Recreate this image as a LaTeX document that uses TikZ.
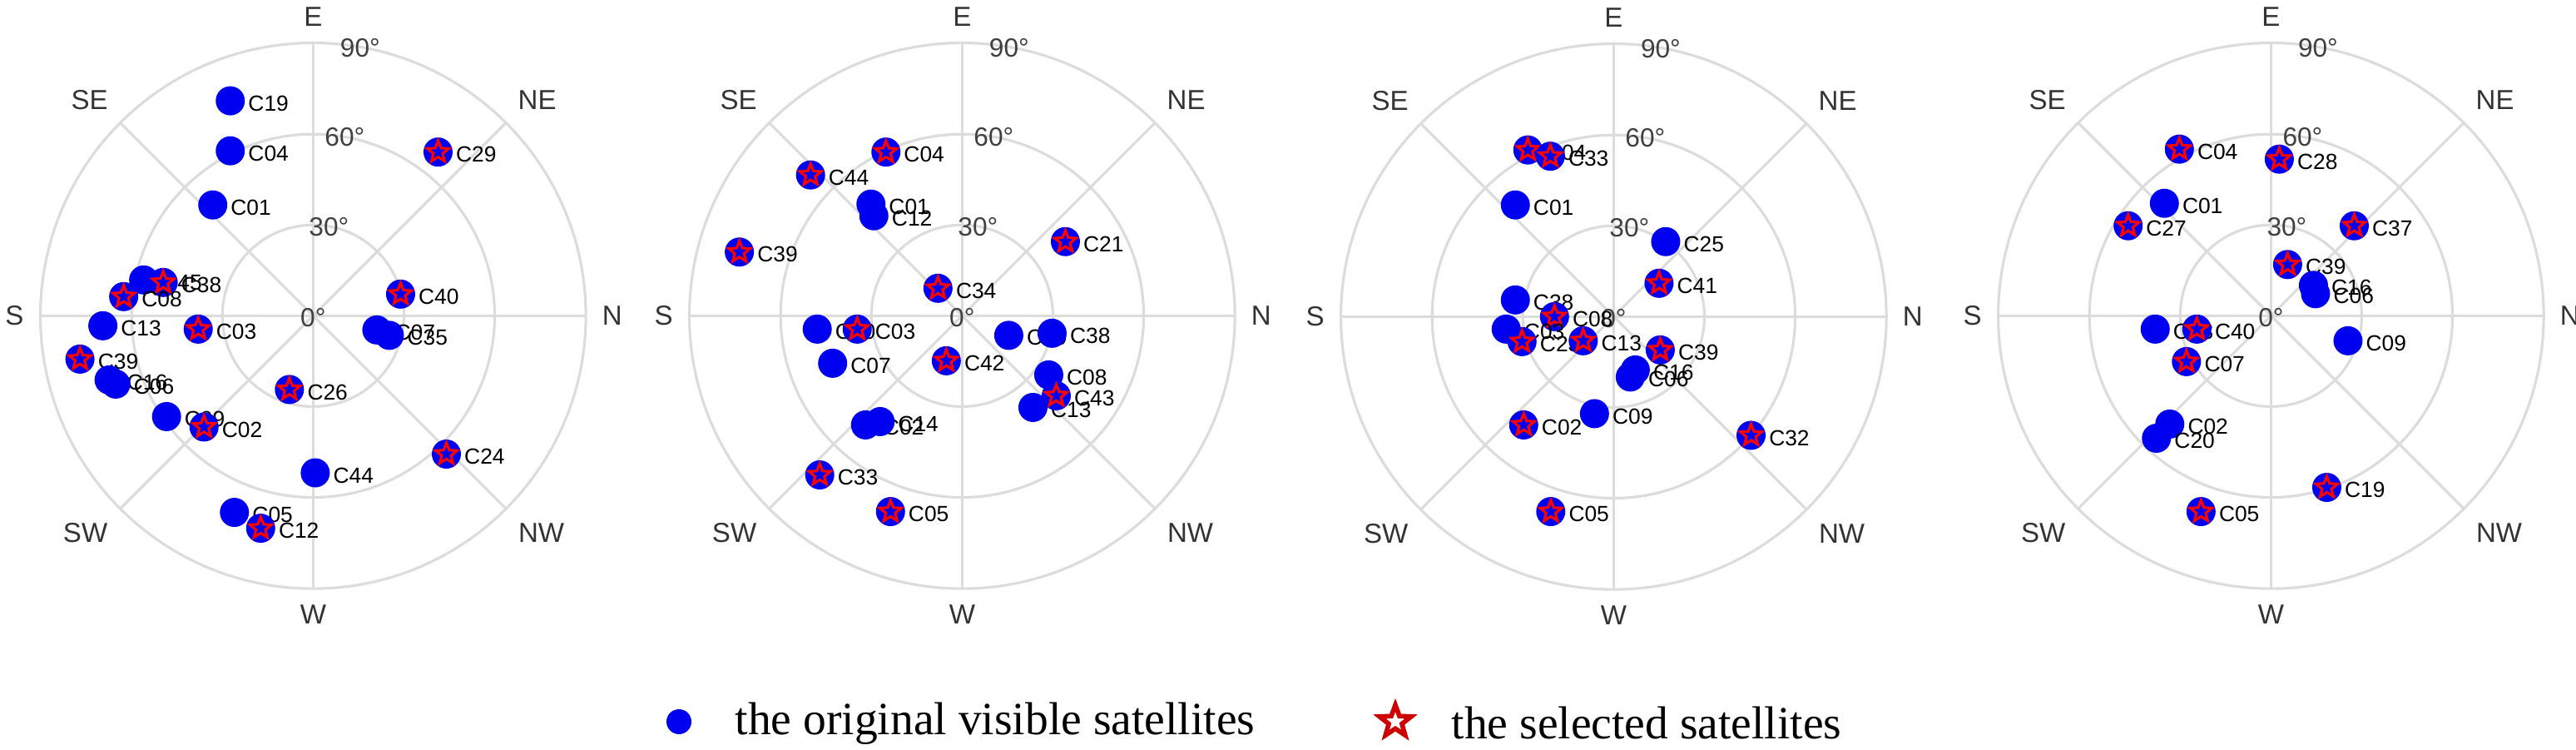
\documentclass[tikz,border=0pt]{standalone}
\usepackage{fontspec}
\setmainfont{Liberation Serif}
\newfontfamily\arialf{Liberation Sans}
\usetikzlibrary{shapes.geometric}
\definecolor{gridc}{RGB}{220,220,220}
\definecolor{satblue}{RGB}{0,0,240}
\tikzset{
 gridl/.style={draw=gridc,line width=0.9pt},
 dotb/.style={circle,fill=satblue,draw=none,minimum size=0.35cm,inner sep=0pt},
 stm/.style={star,star points=5,star point ratio=2.3,draw=red,line width=0.9pt,minimum size=0.27cm,inner sep=0pt},
 lab/.style={font=\arialf\fontsize{7.5pt}{8pt}\selectfont,text=black,inner sep=0pt,anchor=west},
 dirl/.style={font=\arialf\fontsize{9.4pt}{10pt}\selectfont,text=black!80,inner sep=0pt},
 degl/.style={font=\arialf\fontsize{9pt}{10pt}\selectfont,text=black!75,inner sep=0pt},
 legt/.style={font=\fontsize{15.8pt}{17pt}\selectfont,inner sep=0pt,anchor=west}
}
\newcommand\satB[4]{\node[dotb] (#1) at (#2,#3) {};\node[lab] (#1l) at (#2+42,#3+6) {#4};}
\newcommand\satS[4]{\node[dotb] (#1) at (#2,#3) {};\node[stm] (#1s) at (#1) {};\node[lab] (#1l) at (#2+42,#3+6) {#4};}
\newcommand\polgrid[1]{%
 \foreach \r in {218,436,655} \draw[gridl] (\cx,\cy) circle[radius=\r*0.005cm];
 \foreach \a in {0,45,...,315} \draw[gridl] (\cx,\cy) -- ++(\a:3.275cm);
 \node[dirl] (#1E) at (\cx,\cy-718) {E};
 \node[dirl] (#1W) at (\cx,\cy+717) {W};
 \node[dirl] (#1S) at (\cx-717,\cy) {S};
 \node[dirl] (#1N) at (\cx+718,\cy) {N};
 \node[dirl] (#1SE) at (\cx-537,\cy-518) {SE};
 \node[dirl] (#1NE) at (\cx+538,\cy-518) {NE};
 \node[dirl] (#1SW) at (\cx-547,\cy+522) {SW};
 \node[dirl] (#1NW) at (\cx+548,\cy+522) {NW};
 \node[degl] (#1d90) at (\cx+113,\cy-643) {90°};
 \node[degl] (#1d60) at (\cx+76,\cy-430) {60°};
 \node[degl] (#1d30) at (\cx+38,\cy-213) {30°};
 \node[degl] (#1d0) at (\cx,\cy+4) {0°};
}
\begin{document}
\begin{tikzpicture}
\useasboundingbox (0,0) rectangle (30.96,-9.01);
% plot 1
\begin{scope}[shift={(0cm,0cm)},x=0.005cm,y=-0.005cm]
\def\cx{752}\def\cy{758}
\polgrid{a}
\satB{a19}{553}{242}{C19}
\satB{a04}{553}{362}{C04}
\satB{a01}{511}{492}{C01}
\satS{a29}{1052}{365}{C29}
\satS{a40}{962}{706}{C40}
\satB{a07}{905}{792}{C07}
\satB{a35}{935}{805}{C35}
\satB{a45}{345}{672}{C45}
\satS{a38}{392}{678}{C38}
\satS{a08}{297}{712}{C08}
\satB{a13}{247}{782}{C13}
\satS{a03}{476}{790}{C03}
\satS{a39}{192}{862}{C39}
\satB{a16}{262}{912}{C16}
\satB{a06}{278}{922}{C06}
\satB{a09}{400}{1000}{C09}
\satS{a02}{490}{1025}{C02}
\satS{a26}{695}{935}{C26}
\satS{a24}{1072}{1090}{C24}
\satB{a44}{757}{1135}{C44}
\satB{a05}{563}{1230}{C05}
\satS{a12}{626}{1268}{C12}
\end{scope}
% plot 2
\begin{scope}[shift={(7.8cm,0cm)},x=0.005cm,y=-0.005cm]
\def\cx{752}\def\cy{758}
\polgrid{b}
\satS{b04}{569}{365}{C04}
\satS{b44}{388}{420}{C44}
\satB{b01}{533}{490}{C01}
\satB{b12}{540}{518}{C12}
\satS{b39}{217}{605}{C39}
\satS{b21}{1000}{580}{C21}
\satS{b34}{694}{692}{C34}
\satB{b40}{404}{790}{C40}
\satS{b03}{500}{790}{C03}
\satB{b07}{441}{872}{C07}
\satS{b42}{714}{866}{C42}
\satB{b09}{864}{805}{C09}
\satB{b38}{968}{800}{C38}
\satB{b08}{960}{900}{C08}
\satB{b13}{922}{978}{C13}
\satS{b43}{978}{950}{C43}
\satB{b02}{520}{1020}{C02}
\satB{b14}{555}{1012}{C14}
\satS{b33}{410}{1140}{C33}
\satS{b05}{580}{1228}{C05}
\end{scope}
% plot 3
\begin{scope}[shift={(15.5cm,0cm)},x=0.005cm,y=-0.005cm]
\def\cx{778}\def\cy{760}
\polgrid{c}
\satS{c04}{572}{360}{C04}
\satS{c33}{626}{375}{C33}
\satB{c01}{542}{492}{C01}
\satB{c25}{903}{580}{C25}
\satS{c41}{887}{680}{C41}
\satB{c38}{542}{720}{C38}
\satS{c08}{636}{760}{C08}
\satB{c03}{520}{790}{C03}
\satS{c23}{558}{820}{C23}
\satS{c13}{705}{818}{C13}
\satS{c39}{890}{840}{C39}
\satB{c16}{830}{888}{C16}
\satB{c06}{818}{905}{C06}
\satB{c09}{732}{993}{C09}
\satS{c02}{562}{1020}{C02}
\satS{c32}{1108}{1045}{C32}
\satS{c05}{627}{1228}{C05}
\end{scope}
% plot 4
\begin{scope}[shift={(23.2cm,0cm)},x=0.005cm,y=-0.005cm]
\def\cx{818}\def\cy{758}
\polgrid{d}
\satS{d04}{598}{358}{C04}
\satS{d28}{838}{382}{C28}
\satB{d01}{562}{488}{C01}
\satS{d27}{475}{542}{C27}
\satS{d37}{1018}{542}{C37}
\satS{d39}{858}{635}{C39}
\satB{d16}{920}{685}{C16}
\satB{d06}{925}{705}{C06}
\satB{d03}{540}{790}{C03}
\satS{d40}{640}{790}{C40}
\satS{d07}{615}{868}{C07}
\satB{d09}{1003}{818}{C09}
\satB{d02}{575}{1018}{C02}
\satB{d20}{543}{1052}{C20}
\satS{d19}{952}{1170}{C19}
\satS{d05}{650}{1228}{C05}
\end{scope}
% legend
\node[circle,fill=satblue,minimum size=0.3cm,inner sep=0pt] (ld) at (8.16,-8.67) {};
\node[legt] (ldt) at (8.83,-8.69) {the original visible satellites};
\node[star,star points=5,star point ratio=2.4,draw=red!80!black,line width=1.6pt,minimum size=0.4cm,inner sep=0pt] (ls) at (16.77,-8.67) {};
\node[legt] (lst) at (17.44,-8.69) {the selected satellites};
\end{tikzpicture}
\end{document}
